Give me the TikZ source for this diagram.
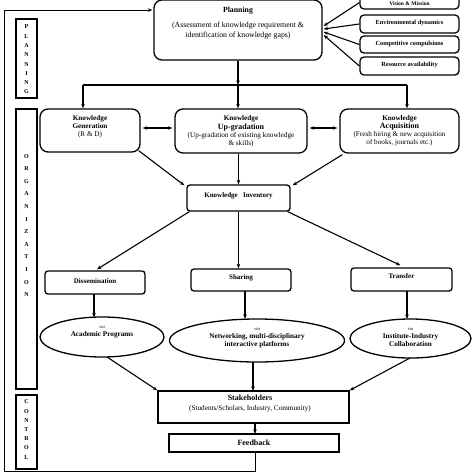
\documentclass[tikz,border=0pt]{standalone}
\usepackage{fontspec}
\setmainfont{Liberation Serif}
\usetikzlibrary{arrows.meta,shapes.geometric,calc}
\begin{document}
\begin{tikzpicture}[x=1pt,y=-1pt,
  box/.style={draw,line width=1.3pt,inner sep=0pt},
  rbox/.style={box,rounded corners=8pt},
  sbox/.style={box,rounded corners=4pt},
  tbox/.style={box,rounded corners=3pt},
  ell/.style={draw,line width=1.3pt,ellipse,inner sep=0pt},
  txt/.style={align=center,inner sep=0pt,font=\fontsize{7.2}{8}\selectfont},
  ttl/.style={inner sep=0pt,font=\fontsize{8}{9}\selectfont\bfseries},
  rtxt/.style={inner sep=0pt,font=\fontsize{6.3}{7}\selectfont\bfseries},
  lett/.style={align=center,inner sep=0pt,font=\bfseries},
  arr/.style={line width=1.1pt,-{Stealth[length=4.5pt,width=3.5pt]}},
  darr/.style={line width=1.1pt,{Stealth[length=4.5pt,width=3.5pt]}-{Stealth[length=4.5pt,width=3.5pt]}},
  ln/.style={line width=1.1pt},
  side/.style={draw,line width=1.2pt,inner sep=0pt},
]
\useasboundingbox (0,0) rectangle (474,474);
\fill[white] (0,0) rectangle (474,474);

% side labels
\node[side,minimum width=21pt,minimum height=79pt] (splan) at (26.5,58.5) {};
\node[lett,font=\fontsize{6}{9.3}\selectfont\bfseries] (tplan) at (26.5,59.5) {P\\L\\A\\N\\N\\I\\N\\G};
\node[side,minimum width=21pt,minimum height=280pt] (sorg) at (26.5,249) {};
\node[lett,font=\fontsize{6}{12.6}\selectfont\bfseries] (torg) at (26.5,225.5) {O\\R\\G\\A\\N\\I\\Z\\A\\T\\I\\O\\N};
\node[side,minimum width=21pt,minimum height=74pt] (sctl) at (26.5,432) {};
\node[lett,font=\fontsize{6}{9.2}\selectfont\bfseries] (tctl) at (26.5,429.5) {C\\O\\N\\T\\R\\O\\L};

% planning
\node[rbox,minimum width=168pt,minimum height=60pt] (plan) at (238,30) {};
\node[txt,font=\fontsize{7.8}{10}\selectfont] (tplanning) at (238,23) {\textbf{Planning}\\[5pt](Assessment of knowledge requirement \&\\identification of knowledge gaps)};

% right boxes
\node[sbox,minimum width=99pt,minimum height=16pt] (vis) at (409.5,1) {};
\node[rtxt,font=\fontsize{5.5}{6}\selectfont\bfseries] at (409.5,3.2) {Vision \& Mission};
\node[sbox,minimum width=99pt,minimum height=18pt] (env) at (409.5,24) {};
\node[rtxt] at (409.5,23) {Environmental dynamics};
\node[sbox,minimum width=99pt,minimum height=17pt] (comp) at (409.5,44.5) {};
\node[rtxt] at (409.5,43.5) {Competitive compulsions};
\node[sbox,minimum width=99pt,minimum height=18pt] (res) at (409.5,66) {};
\node[rtxt] at (409.5,65) {Resource availability};

\draw[arr] ($(vis.south west)+(0,-7)$) -- ($(plan.east)+(1,-4)$);
\draw[arr] (env.west) -- ($(plan.east)+(1,-1)$);
\draw[arr] (comp.west) -- ($(plan.east)+(1,2)$);
\draw[arr] (res.west) -- ($(plan.east)+(1,5)$);

% knowledge boxes
\node[rbox,minimum width=100pt,minimum height=43pt] (gen) at (90,130.5) {};
\node[txt] at (90,126.5) {\textbf{Knowledge}\\\textbf{Generation}\\(R \& D)};
\node[rbox,minimum width=132pt,minimum height=44pt] (upg) at (241,131) {};
\node[txt] at (241,131) {\textbf{Knowledge}\\[1pt]{\fontsize{8}{9}\selectfont\bfseries Up-gradation}\\(Up-gradation of existing knowledge\\\& skills)};
\node[rbox,minimum width=119pt,minimum height=44pt] (acq) at (399.5,131) {};
\node[txt] at (399.5,130.5) {\textbf{Knowledge}\\{\fontsize{8}{9}\selectfont\bfseries Acquisition}\\(Fresh hiring \& new acquisition\\of books, journals etc.)};

\coordinate (bus) at (238,85);
\coordinate (busL) at (83,85);
\coordinate (busR) at (407,85);
\draw[arr] (plan.south) -- (bus);
\draw[ln] (busL) -- (busR);
\draw[arr] (busL) -- (busL |- gen.north);
\draw[arr] (bus) -- (bus |- upg.north);
\draw[arr] (busR) -- (busR |- acq.north);

\draw[darr,shorten <=2pt,shorten >=2pt] (gen.east |- 0,128) -- (upg.west |- 0,128);
\draw[darr,shorten <=2pt,shorten >=2pt] (upg.east |- 0,128) -- (acq.west |- 0,128);

% inventory
\node[tbox,minimum width=103pt,minimum height=26pt] (inv) at (238.5,198) {};
\node[txt,font=\fontsize{7}{8}\selectfont\bfseries] at (238.5,196) {Knowledge~~~Inventory};

\draw[arr] ($(gen.south east)+(-2,-2)$) -- ($(inv.north west)+(-2,1)$);
\draw[arr] (inv.north |- upg.south) -- (inv.north);
\draw[arr] ($(acq.south west)+(3,1)$) -- ($(inv.north east)+(2,1)$);

% dissemination, sharing, transfer
\node[tbox,minimum width=100pt,minimum height=23pt] (diss) at (95,282.5) {};
\node[ttl,font=\fontsize{7}{8}\selectfont\bfseries] at (95,281) {Dissemination};
\node[tbox,minimum width=100pt,minimum height=22pt] (shar) at (241,280) {};
\node[ttl,font=\fontsize{7}{8}\selectfont\bfseries] at (241,277.5) {Sharing};
\node[tbox,minimum width=101pt,minimum height=23pt] (trans) at (401.5,279.5) {};
\node[ttl,font=\fontsize{7}{8}\selectfont\bfseries] at (401.5,276.5) {Transfer};

\draw[arr] ($(inv.south west)+(3,0)$) -- ($(diss.north)+(2,-1)$);
\draw[arr] (inv.south) -- (inv.south |- shar.north);
\draw[arr] ($(inv.south east)+(-3,0)$) -- ($(trans.north)+(-1,-2)$);

% ellipses
\node[ell,minimum width=124pt,minimum height=40pt] (acad) at (102,337) {};
\node[txt] at (102,331.5) {{\fontsize{4.5}{5}\selectfont\itshape via}\\\textbf{Academic Programs}};
\node[ell,minimum width=175pt,minimum height=43pt] (net) at (257,340.5) {};
\node[txt] at (257,337.5) {{\fontsize{4.5}{5}\selectfont\itshape via}\\\textbf{Networking, multi-disciplinary}\\\textbf{interactive platforms}};
\node[ell,minimum width=121pt,minimum height=39pt] (inst) at (410.5,338.5) {};
\node[txt] at (410.5,337) {{\fontsize{4.5}{5}\selectfont\itshape via}\\\textbf{Institute-Industry}\\\textbf{Collaboration}};

\coordinate (dA) at (94,294);
\coordinate (dB) at (94,317.5);
\coordinate (sA) at (245,291);
\coordinate (sB) at (245,319);
\coordinate (tA) at (407,291);
\coordinate (tB) at (407,319);
\draw[arr] (dA) -- (dB);
\draw[arr] (sA) -- (sB);
\draw[arr] (tA) -- (tB);

% stakeholders and feedback
\node[box,minimum width=191pt,minimum height=32pt] (stake) at (253.5,407) {};
\node[txt] at (250,403.5) {{\fontsize{8}{9}\selectfont\bfseries Stakeholders}\\[1.5pt](Students/Scholars, Industry, Community)};
\node[box,minimum width=170pt,minimum height=18pt] (fb) at (254,443) {};
\node[ttl] at (254,443) {Feedback};

\coordinate (aS) at (107,357);
\coordinate (nS) at (253,362);
\coordinate (nT) at (253,391);
\coordinate (iS) at (410,358);
\draw[arr] (aS) -- (stake.north west);
\draw[arr] (nS) -- (nT);
\draw[arr] (iS) -- (stake.north east);
\coordinate (fA) at (255,423);
\coordinate (fB) at (255,434);
\draw[arr] (fA) -- (fB);

% feedback loop
\coordinate (fC) at (255,452);
\coordinate (loopB) at (255,471);
\coordinate (loopT) at (4,10);
\draw[line width=0.9pt,-{Stealth[length=4.5pt,width=3.5pt]}] (fC) -- (loopB) -| (loopT) -- ($(plan.west)+(-1,-20)$);
\end{tikzpicture}
\end{document}
